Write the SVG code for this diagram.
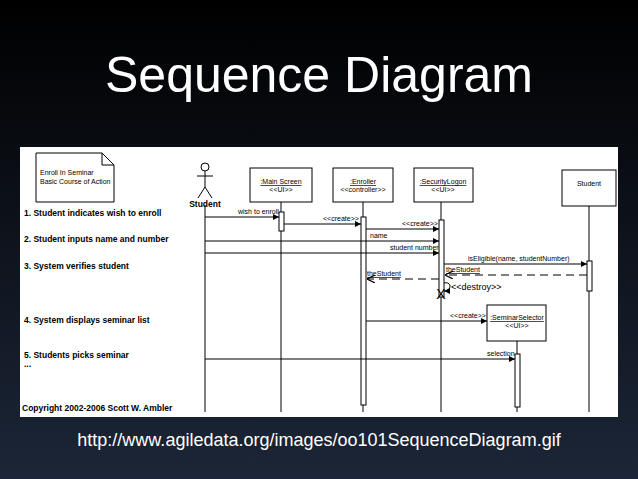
<svg xmlns="http://www.w3.org/2000/svg" width="638" height="479" viewBox="0 0 638 479">
<defs>
<linearGradient id="bg" x1="0" y1="0" x2="0" y2="1"><stop offset="0" stop-color="#000"/><stop offset="1" stop-color="#1c2638"/></linearGradient>
<marker id="a" markerWidth="6" markerHeight="6" refX="6" refY="3" orient="auto"><path d="M0,0L6,3L0,6z" fill="#000"/></marker>
<marker id="o" markerWidth="7" markerHeight="7" refX="7" refY="3.5" orient="auto"><path d="M0,0L7,3.5L0,7" fill="none" stroke="#000"/></marker>
</defs>
<style>
.b{fill:#fff;stroke:#000;stroke-width:1}
.l{stroke:#000;stroke-width:1;fill:none}
.m{stroke:#000;stroke-width:1;marker-end:url(#a)}
.d{stroke:#000;stroke-width:1.2;stroke-dasharray:8,5;marker-end:url(#o)}
.s{font-family:"Liberation Sans",Arial,sans-serif;font-size:7px;fill:#000}
.u{text-decoration:underline}
.t{font-family:"Liberation Sans",Arial,sans-serif;font-size:8.5px;font-weight:bold;fill:#000}
</style>
<rect width="638" height="479" fill="url(#bg)"/>
<text x="319" y="92" text-anchor="middle" font-family="Helvetica,'Liberation Sans',sans-serif" font-size="50" fill="#fff">Sequence Diagram</text>
<rect x="20" y="147" width="598" height="270" fill="#fff"/>
<text x="319" y="446" text-anchor="middle" font-family="'Liberation Sans',Arial,sans-serif" font-size="18" fill="#fff">http://www.agiledata.org/images/oo101SequenceDiagram.gif</text>
<g id="note"><path class="b" d="M36,153H102L114,165V202H36Z"/><path class="l" d="M102,153V165H114"/>
<text class="s" x="40" y="175">Enroll In Seminar</text><text class="s" x="40" y="184">Basic Course of Action</text></g>
<g id="steps">
<text class="t" x="24" y="216">1. Student indicates wish to enroll</text>
<text class="t" x="24" y="242">2. Student inputs name and number</text>
<text class="t" x="24" y="269">3. System verifies student</text>
<text class="t" x="24" y="323">4. System displays seminar list</text>
<text class="t" x="24" y="358">5. Students picks seminar</text>
<text class="t" x="24" y="367">...</text>
<text class="t" x="22" y="411">Copyright 2002-2006  Scott W. Ambler</text>
</g>
<g id="actor"><circle class="b" cx="205" cy="167" r="4"/><path class="l" d="M205,171V187M197,176H213M205,187L198,198M205,187L212,198M205,205V412"/>
<text class="t" x="205" y="207" text-anchor="middle">Student</text></g>
<g id="mainscreen"><rect class="b" x="250" y="168" width="62" height="34"/><text class="s u" x="281" y="184" text-anchor="middle">:Main Screen</text><text class="s" x="281" y="192" text-anchor="middle">&lt;&lt;UI&gt;&gt;</text>
<path class="l" d="M281,202V412"/><rect class="b" x="279" y="212" width="5" height="19"/></g>
<g id="enroller"><rect class="b" x="333" y="168" width="60" height="34"/><text class="s u" x="363" y="184" text-anchor="middle">:Enroller</text><text class="s" x="363" y="192" text-anchor="middle">&lt;&lt;controller&gt;&gt;</text>
<path class="l" d="M363,202V412"/><rect class="b" x="361" y="217" width="5" height="188"/></g>
<g id="security"><rect class="b" x="414" y="168" width="59" height="34"/><text class="s u" x="443" y="184" text-anchor="middle">:SecurityLogon</text><text class="s" x="443" y="192" text-anchor="middle">&lt;&lt;UI&gt;&gt;</text>
<path class="l" d="M441,202V412"/><rect class="b" x="439" y="220" width="5" height="77"/></g>
<g id="student"><rect class="b" x="562" y="170" width="54" height="36"/><text class="s" x="589" y="186" text-anchor="middle">Student</text>
<path class="l" d="M589,206V412"/><rect class="b" x="587" y="261" width="5" height="30"/></g>
<g id="seminar"><rect class="b" x="487" y="305" width="59" height="36"/><text class="s u" x="517" y="320" text-anchor="middle">:SeminarSelector</text><text class="s" x="517" y="328" text-anchor="middle">&lt;&lt;UI&gt;&gt;</text>
<path class="l" d="M517,341V412"/><rect class="b" x="515" y="354" width="5" height="53"/></g>
<g id="connectors">
<line class="m" x1="205" y1="217" x2="279" y2="217"/><text class="s" x="238" y="214">wish to enroll</text>
<line class="m" x1="284" y1="224" x2="361" y2="224"/><text class="s" x="323" y="221">&lt;&lt;create&gt;&gt;</text>
<line class="m" x1="366" y1="229" x2="439" y2="229"/><text class="s" x="402" y="226">&lt;&lt;create&gt;&gt;</text>
<line class="m" x1="205" y1="241" x2="439" y2="241"/><text class="s" x="370" y="238">name</text>
<line class="m" x1="205" y1="253" x2="439" y2="253"/><text class="s" x="390" y="250">student number</text>
<line class="m" x1="444" y1="264" x2="587" y2="264"/><text class="s" x="468" y="261">isEligible(name, studentNumber)</text>
<line class="d" x1="587" y1="275" x2="445" y2="275"/><text class="s u" x="446" y="272">theStudent</text>
<line class="d" x1="439" y1="279" x2="367" y2="279"/><text class="s u" x="367" y="276">theStudent</text>
<path class="l" d="M444,283C452,281 452,291 444,291" marker-end="url(#a)"/>
<text x="441" y="299" text-anchor="middle" font-family="'Liberation Sans',sans-serif" font-size="14" fill="#000">X</text>
<text x="451" y="290" font-family="'Liberation Sans',sans-serif" font-size="9" fill="#000">&lt;&lt;destroy&gt;&gt;</text>
<line class="m" x1="366" y1="321" x2="487" y2="321"/><text class="s" x="450" y="318">&lt;&lt;create&gt;&gt;</text>
<line class="m" x1="205" y1="359" x2="515" y2="359"/><text class="s" x="487" y="356">selection</text>
</g>
</svg>
